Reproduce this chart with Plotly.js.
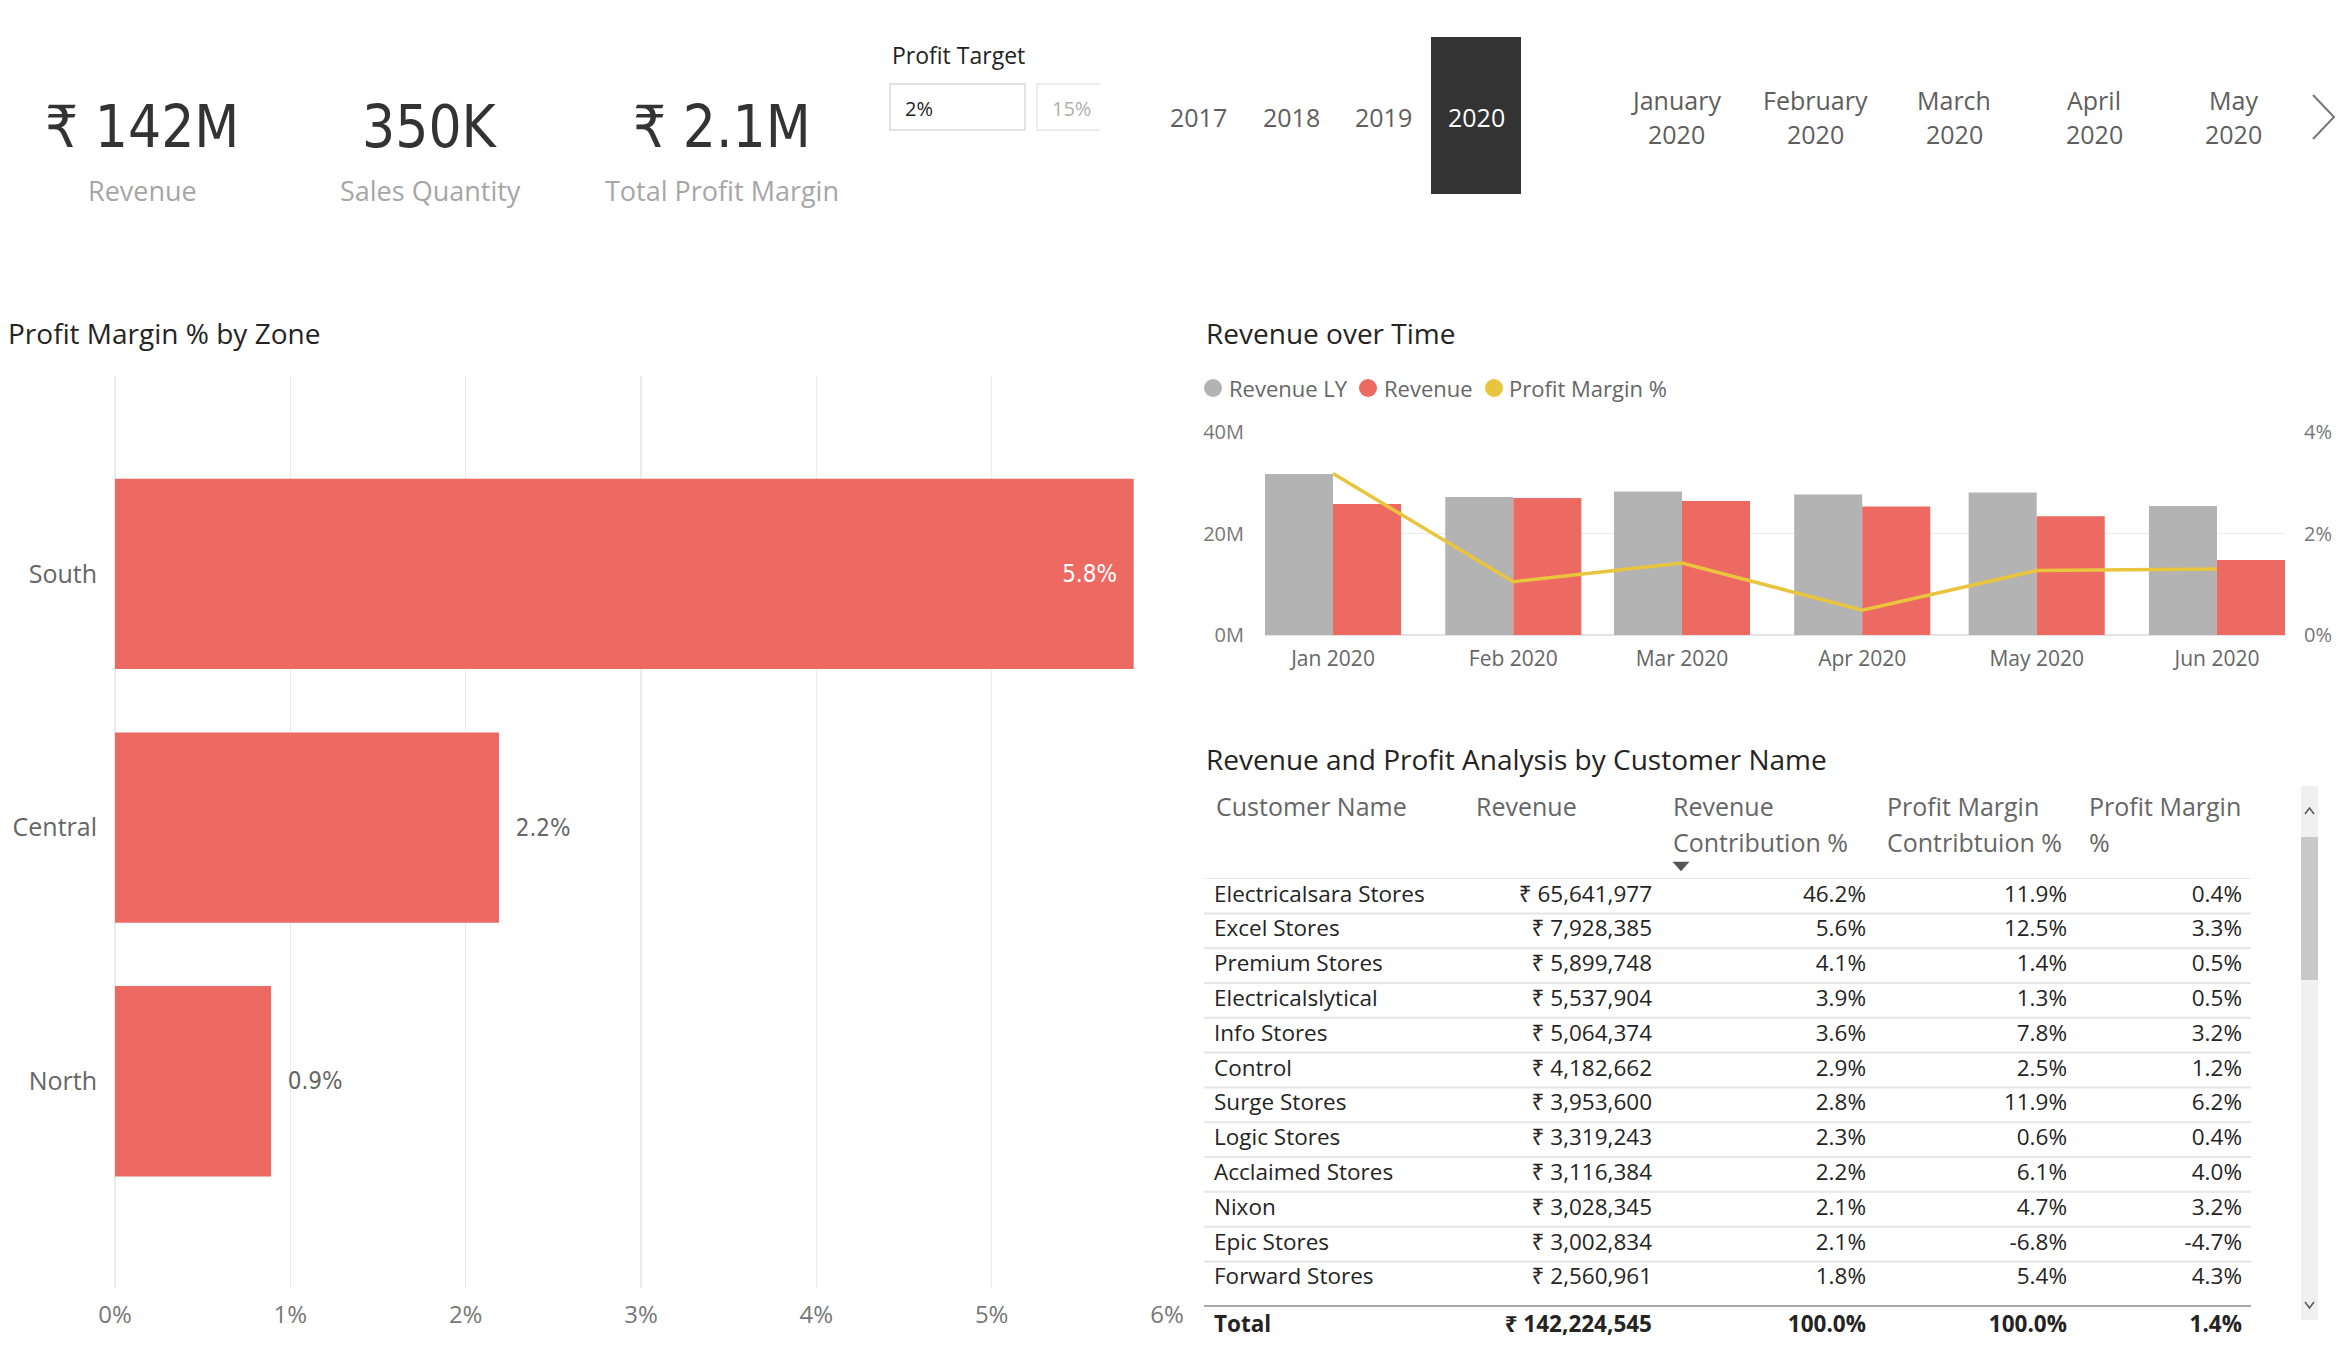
<!DOCTYPE html>
<html><head><meta charset="utf-8">
<script src="https://cdn.plot.ly/plotly-3.0.1.min.js"></script>
<style>html,body{margin:0;padding:0;background:#fff;overflow:hidden}#chart{width:2342px;height:1346px;}</style>
</head><body><div id="chart"></div>
<script>
// ================= DATA =================
const kpiValues = ['₹ 142M', '350K', '₹ 2.1M'];
const kpiLabels = ['Revenue', 'Sales Quantity', 'Total Profit Margin'];
const profitTargetTitle = 'Profit Target';
const profitTargetValues = ['2%', '15%'];
const years = ['2017', '2018', '2019', '2020'];
const selectedYear = '2020';
const monthSlicerNames = ['January', 'February', 'March', 'April', 'May'];
const monthSlicerYear = '2020';

const zones = ['South', 'Central', 'North'];
const zoneProfitMargin = [0.0581, 0.0219, 0.0089];

const months = ['2020-01-01', '2020-02-01', '2020-03-01', '2020-04-01', '2020-05-01', '2020-06-01'];
const revenueLY = [31.7e6, 27.2e6, 28.3e6, 27.7e6, 28.1e6, 25.4e6];
const revenue = [25.8e6, 27.0e6, 26.4e6, 25.3e6, 23.4e6, 14.8e6];
const profitMarginPct = [0.0318, 0.0105, 0.0142, 0.0049, 0.0127, 0.0130];
const revTickVals = [0, 20e6, 40e6];
const revTickText = ['0M', '20M', '40M'];
const pctTickVals = [0, 0.02, 0.04];
const legendNames = ['Revenue LY', 'Revenue', 'Profit Margin %'];

const tableHeaders = [['Customer Name'], ['Revenue'], ['Revenue', 'Contribution %'], ['Profit Margin', 'Contribtuion %'], ['Profit Margin', '%']];
const customers = ['Electricalsara Stores', 'Excel Stores', 'Premium Stores', 'Electricalslytical', 'Info Stores', 'Control', 'Surge Stores', 'Logic Stores', 'Acclaimed Stores', 'Nixon', 'Epic Stores', 'Forward Stores'];
const custRevenue = [65641977, 7928385, 5899748, 5537904, 5064374, 4182662, 3953600, 3319243, 3116384, 3028345, 3002834, 2560961];
const custRevContrib = [46.2, 5.6, 4.1, 3.9, 3.6, 2.9, 2.8, 2.3, 2.2, 2.1, 2.1, 1.8];
const custPMContrib = [11.9, 12.5, 1.4, 1.3, 7.8, 2.5, 11.9, 0.6, 6.1, 4.7, -6.8, 5.4];
const custPM = [0.4, 3.3, 0.5, 0.5, 3.2, 1.2, 6.2, 0.4, 4.0, 3.2, -4.7, 4.3];
const totalLabel = 'Total';
const totalRevenue = 142224545;
const totalRevContrib = 100.0;
const totalPMContrib = 100.0;
const totalPM = 1.4;

// ================= LAYOUT HELPERS =================
const W = 2342, H = 1346;
const X = v => v / W;
const Y = v => 1 - v / H;
const SANS = '"Segoe UI", "Open Sans", "Noto Sans", sans-serif';
const DIN = '"DejaVu Sans Condensed", "DejaVu Sans", Roboto, sans-serif';
const RED = '#ec6a62', GREY = '#b3b3b3', YEL = '#e9c53e';
const fmtRs = v => '₹ ' + v.toLocaleString('en-US');
const fmtPct = v => v.toFixed(1) + '%';
const NB = '\u00a0';

function ann(text, x, y, size, color, xa, family, extra) {
  return Object.assign({
    text: text, x: X(x), y: Y(y), xref: 'paper', yref: 'paper', showarrow: false,
    xanchor: xa || 'center', yanchor: 'middle',
    font: { family: family || SANS, size: size, color: color }
  }, extra || {});
}
function rect(x0, y0, x1, y1, fill, line) {
  return { type: 'rect', xref: 'paper', yref: 'paper', x0: X(x0), x1: X(x1), y0: Y(y1), y1: Y(y0),
    fillcolor: fill, line: line || { width: 0 }, layer: 'below' };
}
function pathP(pts, color, width, fill, close) {
  const d = pts.map((p, i) => (i ? 'L ' : 'M ') + X(p[0]) + ' ' + Y(p[1])).join(' ') + (close ? ' Z' : '');
  const s = { type: 'path', xref: 'paper', yref: 'paper', path: d, line: { color: color, width: width } };
  if (fill) s.fillcolor = fill;
  return s;
}

const annotations = [];
const shapes = [];

// KPI cards
const kpiX = [142, 430, 722];
kpiValues.forEach((v, i) => {
  annotations.push(ann(v, kpiX[i], 127, 58, '#333333', 'center', DIN));
  annotations.push(ann(kpiLabels[i], kpiX[i], 191, 27, '#a6a6a6'));
});

// Profit target
annotations.push(ann(profitTargetTitle, 890, 55, 23, '#252423', 'left'));
shapes.push(rect(890, 84, 1025, 130, '#ffffff', { color: '#e3e3e3', width: 2 }));
shapes.push(pathP([[1100, 84], [1037, 84], [1037, 130], [1100, 130]], '#ececec', 2));
annotations.push(ann(profitTargetValues[0], 903, 108, 20, '#252423', 'left'));
annotations.push(ann(profitTargetValues[1], 1050, 108, 20, '#b0b0b0', 'left'));

// Year slicer
const yearX = [1198, 1291, 1383, 1476];
shapes.push(rect(1431, 37, 1521, 194, '#333333'));
years.forEach((yv, i) => {
  annotations.push(ann(yv, yearX[i], 117, 25, yv === selectedYear ? '#ffffff' : '#605e5c'));
});

// Month slicer
const monthX = [1676, 1815, 1954, 2094, 2233];
monthSlicerNames.forEach((m, i) => {
  annotations.push(ann(m, monthX[i], 100, 25, '#605e5c'));
  annotations.push(ann(monthSlicerYear, monthX[i], 134, 25, '#605e5c'));
});
shapes.push(pathP([[2313, 95], [2334, 117], [2313, 139]], '#777777', 2));

// Titles
annotations.push(ann('Profit Margin % by Zone', 6, 333, 28, '#252423', 'left'));
annotations.push(ann('Revenue over Time', 1204, 333, 28, '#252423', 'left'));
annotations.push(ann('Revenue and Profit Analysis by Customer Name', 1204, 759, 28, '#252423', 'left'));

// Combo legend
const legCx = [1213, 1368, 1494], legTx = [1227, 1382, 1507];
const legCol = [GREY, RED, YEL];
legendNames.forEach((n, i) => {
  shapes.push({ type: 'circle', xref: 'paper', yref: 'paper', x0: X(legCx[i] - 9), x1: X(legCx[i] + 9),
    y0: Y(397), y1: Y(379), fillcolor: legCol[i], line: { width: 0 } });
  annotations.push(ann(n, legTx[i], 388, 22, '#666666', 'left'));
});

// Table header
const headX = [1214, 1474, 1671, 1885, 2087];
tableHeaders.forEach((lines, i) => {
  lines.forEach((t, j) => annotations.push(ann(t, headX[i], 806 + j * 36, 25, '#666666', 'left')));
});
// sort indicator triangle
shapes.push(pathP([[1673, 862], [1689, 862], [1681, 871]], '#555555', 0.5, '#555555', true));

// Scrollbar
shapes.push(rect(2301, 786, 2318, 1320, '#f0f0f0'));
shapes.push(rect(2301, 837, 2318, 980, '#c8c8c8'));
shapes.push(pathP([[2305, 814], [2309.5, 808], [2314, 814]], '#555555', 1.5));
shapes.push(pathP([[2305, 1302], [2309.5, 1308], [2314, 1302]], '#555555', 1.5));

// Table lines (on table axes)
const TBL_L = 1204, TBL_R = 2251;
const rowIdx = customers.map((_, i) => i);
for (let i = 0; i < customers.length - 1; i++) {
  shapes.push({ type: 'line', xref: 'x4', yref: 'y4', x0: 0, x1: TBL_R - TBL_L, y0: i + 0.5, y1: i + 0.5,
    line: { color: '#e6e6e6', width: 2 } });
}
shapes.push({ type: 'line', xref: 'x4', yref: 'y4', x0: 0, x1: TBL_R - TBL_L, y0: -0.52, y1: -0.52, line: { color: '#c8c8c8', width: 1.5 } });
shapes.push({ type: 'line', xref: 'x4', yref: 'y4', x0: 0, x1: TBL_R - TBL_L, y0: 11.78, y1: 11.78, line: { color: '#a8a8a8', width: 2 } });

// ================= TRACES =================
const traces = [];
// Bar chart by zone
traces.push({
  type: 'bar', orientation: 'h', y: zones, x: zoneProfitMargin, xaxis: 'x', yaxis: 'y',
  marker: { color: RED },
  texttemplate: ['%{x:.1%}' + NB + NB, NB + NB + '%{x:.1%}', NB + NB + '%{x:.1%}'],
  textposition: ['inside', 'outside', 'outside'], insidetextanchor: 'end', constraintext: 'none',
  textfont: { family: DIN, size: 24, color: ['#ffffff', '#666666', '#666666'] },
  cliponaxis: false, showlegend: false, hoverinfo: 'skip'
});

// Combo chart
const DAY = 86400000, BW = 11.7 * DAY;
traces.push({ type: 'bar', x: months, y: revenueLY, name: legendNames[0], xaxis: 'x2', yaxis: 'y2',
  marker: { color: GREY }, width: BW, offset: -BW, showlegend: false, hoverinfo: 'skip' });
traces.push({ type: 'bar', x: months, y: revenue, name: legendNames[1], xaxis: 'x2', yaxis: 'y2',
  marker: { color: RED }, width: BW, offset: 0, showlegend: false, hoverinfo: 'skip' });
traces.push({ type: 'scatter', mode: 'lines', x: months, y: profitMarginPct, name: legendNames[2], xaxis: 'x2', yaxis: 'y3',
  line: { color: YEL, width: 3.5 }, showlegend: false, hoverinfo: 'skip' });

// Table columns as text traces
const colAnchor = [10, 448, 662, 863, 1038];
const colText = [customers, custRevenue.map(fmtRs), custRevContrib.map(fmtPct), custPMContrib.map(fmtPct), custPM.map(fmtPct)];
const totalText = [totalLabel, fmtRs(totalRevenue), fmtPct(totalRevContrib), fmtPct(totalPMContrib), fmtPct(totalPM)];
const TOTAL_ROW = 12.36;
colText.forEach((col, c) => {
  traces.push({ type: 'scatter', mode: 'text', xaxis: 'x4', yaxis: 'y4',
    x: rowIdx.map(() => colAnchor[c]), y: rowIdx, text: col,
    textposition: c === 0 ? 'middle right' : 'middle left',
    textfont: { family: SANS, size: 22.5, color: '#252423' }, cliponaxis: false, showlegend: false, hoverinfo: 'skip' });
  traces.push({ type: 'scatter', mode: 'text', xaxis: 'x4', yaxis: 'y4',
    x: [colAnchor[c]], y: [TOTAL_ROW], text: [totalText[c]],
    textposition: c === 0 ? 'middle right' : 'middle left',
    textfont: { family: SANS, size: 22.5, color: '#252423', weight: 'bold' }, cliponaxis: false, showlegend: false, hoverinfo: 'skip' });
});

// ================= LAYOUT =================
const layout = {
  width: W, height: H, margin: { l: 0, r: 0, t: 0, b: 0 },
  paper_bgcolor: '#ffffff', plot_bgcolor: 'rgba(0,0,0,0)',
  showlegend: false, bargap: 0.25, barmode: 'overlay', hovermode: false,
  font: { family: SANS, color: '#666666' },
  xaxis: { domain: [X(115), X(1167)], range: [0, 0.06], dtick: 0.01, tickformat: '.0%',
    showgrid: true, gridcolor: '#ebebeb', gridwidth: 1.5, zeroline: true, zerolinecolor: '#ebebeb', zerolinewidth: 1.5,
    showline: false, ticks: 'outside', ticklen: 5, tickcolor: 'rgba(0,0,0,0)',
    tickfont: { family: SANS, size: 24, color: '#777777' }, anchor: 'y', fixedrange: true },
  yaxis: { domain: [Y(1288), Y(376)], type: 'category', range: [2.815, -0.78],
    showgrid: false, zeroline: false, showline: false, ticks: 'outside', ticklen: 12, tickcolor: 'rgba(0,0,0,0)',
    tickfont: { family: SANS, size: 25, color: '#666666' }, anchor: 'x', fixedrange: true },
  xaxis2: { domain: [X(1265), X(2285)], type: 'date', range: ['2019-12-20 07:12', '2020-06-12 16:48'],
    tickvals: months, tickformat: '%b %Y', showgrid: false, zeroline: false, showline: false,
    ticks: 'outside', ticklen: 5, tickcolor: 'rgba(0,0,0,0)',
    tickfont: { family: SANS, size: 21, color: '#666666' }, anchor: 'y2', fixedrange: true },
  yaxis2: { domain: [Y(635), Y(432)], range: [0, 4e7], tickvals: revTickVals, ticktext: revTickText,
    showgrid: true, gridcolor: '#ebebeb', gridwidth: 1.5, zeroline: true, zerolinecolor: '#e3e3e3', zerolinewidth: 2,
    ticks: 'outside', ticklen: 16, tickcolor: 'rgba(0,0,0,0)',
    tickfont: { family: SANS, size: 20, color: '#777777' }, anchor: 'x2', fixedrange: true },
  yaxis3: { overlaying: 'y2', side: 'right', range: [0, 0.04], tickvals: pctTickVals, tickformat: '.0%',
    showgrid: false, zeroline: false, ticks: 'outside', ticklen: 14, tickcolor: 'rgba(0,0,0,0)',
    tickfont: { family: SANS, size: 20, color: '#777777' }, anchor: 'x2', fixedrange: true },
  xaxis4: { domain: [X(TBL_L), X(TBL_R)], range: [0, TBL_R - TBL_L], visible: false, anchor: 'y4', fixedrange: true },
  yaxis4: { domain: [Y(1338), Y(878.6)], range: [12.7, -0.5], visible: false, anchor: 'x4', fixedrange: true },
  annotations: annotations, shapes: shapes
};

Plotly.newPlot('chart', traces, layout, { staticPlot: true, displayModeBar: false });
</script>
</body></html>
